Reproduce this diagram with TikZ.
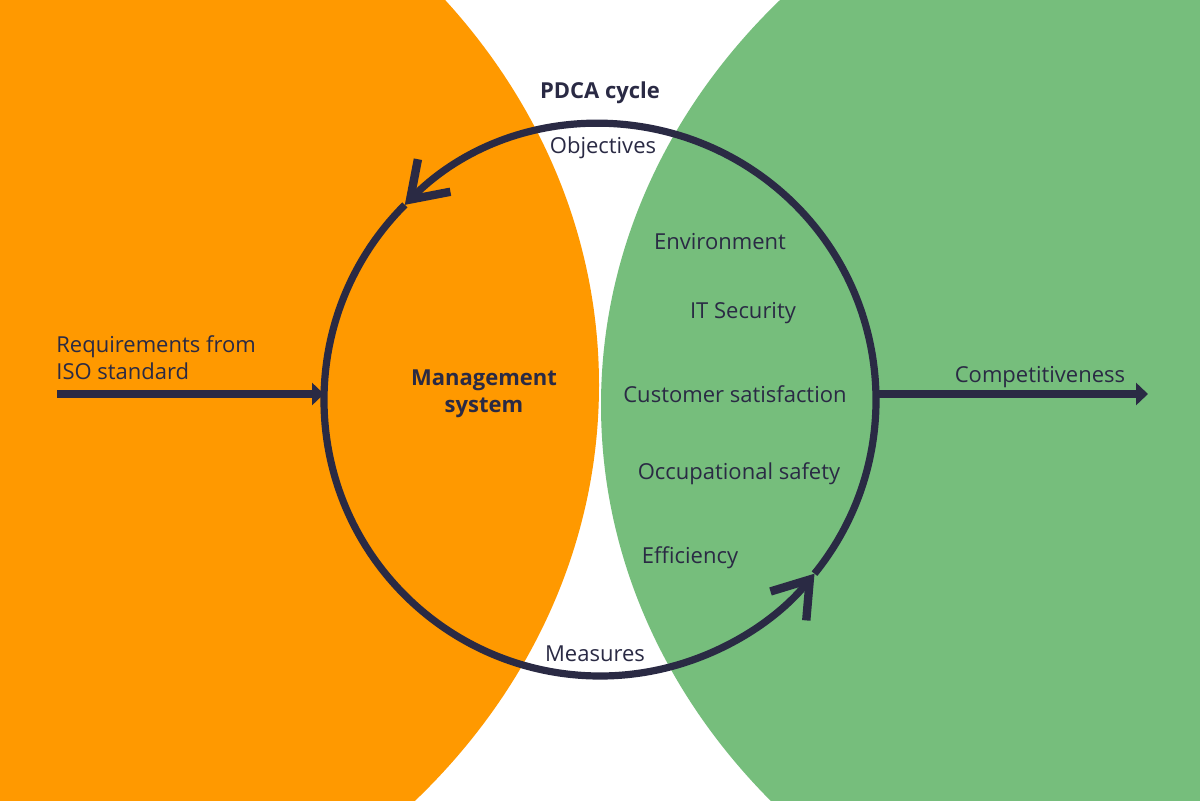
\documentclass[tikz,border=0pt]{standalone}
\usepackage{fontspec}
\setmainfont{Open Sans}
\definecolor{pdcaorange}{RGB}{255,153,0}
\definecolor{pdcagreen}{RGB}{118,190,124}
\definecolor{pdcanavy}{RGB}{42,42,68}
\usepackage{tikz}
\usetikzlibrary{arrows.meta,positioning}

\begin{document}
\begin{tikzpicture}[
  x=0.5pt, y=0.5pt,
  lbl/.style={text=pdcanavy, font=\fontsize{11}{13.5}\selectfont, inner sep=0pt},
  hdr/.style={lbl, font=\fontsize{11}{13.5}\selectfont\bfseries, align=center},
  flow/.style={-{Triangle[length=6pt,width=11pt]}, line width=4pt, pdcanavy},
  cyc/.style={-{Straight Barb[length=17pt,width=23pt,line width=4.2pt]}, line width=3.6pt, pdcanavy}
]
\clip (0,0) rectangle (1200,800);
\fill[white] (0,0) rectangle (1200,800);
\fill[pdcaorange] (-100,415) ellipse [x radius=699, y radius=615];
\fill[pdcagreen] (1300,395) ellipse [x radius=699, y radius=606];

% the cycle
\node[circle, minimum size=276pt, inner sep=0pt, outer sep=0pt] (pdca) at (600,400) {};
\draw[cyc] (pdca.-39) arc[start angle=-39, end angle=135, radius=276];
\draw[cyc] (pdca.135) arc[start angle=135, end angle=321, radius=276];

\node[hdr] (title) at (600,707) {PDCA cycle};
\node[lbl] (obj) at (603,652) {Objectives};
\node[lbl] (meas) at (595,146) {Measures};
\node[hdr] (mgmt) at (484,406) {Management\\system};

% objectives
\node[lbl] (env) at (720,558) {Environment};
\node[lbl] (itsec) at (743,487) {IT Security};
\node[lbl] (cust) at (735,406) {Customer satisfaction};
\node[lbl] (occ) at (739,326) {Occupational safety};
\node[lbl] (eff) at (690,242) {Efficiency};

% in and out
\node[lbl, anchor=west, align=left] (req) at (56,442) {Requirements from\\ISO standard};
\coordinate (reqin) at (57,406);
\draw[flow] (reqin) -- (reqin -| pdca.west);

\node[lbl] (comp) at (1040,423) {Competitiveness};
\coordinate (compout) at (1148,406);
\draw[flow] (compout -| pdca.east) -- (compout);
\end{tikzpicture}
\end{document}
